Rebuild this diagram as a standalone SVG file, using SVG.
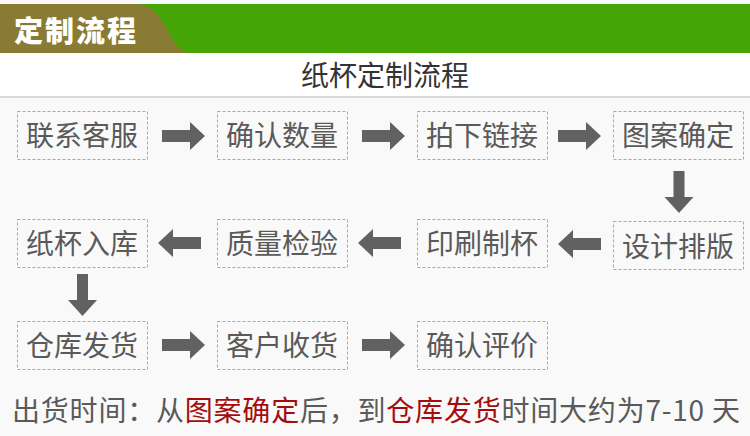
<svg xmlns="http://www.w3.org/2000/svg" width="750" height="436" viewBox="0 0 750 436">
<defs>
<style>
.bx{fill:none;stroke:#a8a8a8;stroke-width:1;stroke-dasharray:3,2}
.t{font-family:"Noto Sans CJK SC","Noto Sans",sans-serif;font-size:28px;fill:#5a5a5a;text-anchor:middle}
.ar{fill:#616161}
.red{fill:#a50d0d}
</style>
<path id="ra" d="M0,-6 H28 V-13 L43,0 L28,13 V-6 Z M0,6 H28" />
<path id="right" d="M0,-6 H28 V-14 L43,0 L28,14 V6 H0 Z"/>
<path id="left" d="M43,-6 H15 V-14 L0,0 L15,14 V6 H43 Z"/>
<path id="down" d="M-5.5,0 H5.5 V26 H14.5 L0,42 L-14.5,26 H-5.5 Z"/>
</defs>
<rect x="0" y="0" width="750" height="436" fill="#f9f9f9"/>
<rect x="0" y="53" width="750" height="44" fill="#ffffff"/>
<rect x="0" y="4" width="750" height="49" fill="#45a507"/>
<path d="M0,4 H136 C158,4 166,30 174,42 C179,49 184,53 191,53 H0 Z" fill="#8a7b34"/>
<text x="14" y="42" style="font-family:'Noto Sans CJK SC',sans-serif;font-size:29px;font-weight:900;fill:#ffffff;letter-spacing:2px">定制流程</text>
<rect x="0" y="96" width="750" height="2" fill="#d9d9d9"/>
<text x="385" y="86" class="t" style="fill:#333333;font-size:28px">纸杯定制流程</text>

<g id="n1"><rect class="bx" x="17.5" y="111.5" width="130" height="48"/><text class="t" x="82" y="146">联系客服</text></g>
<g id="n2"><rect class="bx" x="217.5" y="111.5" width="130" height="48"/><text class="t" x="282" y="146">确认数量</text></g>
<g id="n3"><rect class="bx" x="417.5" y="111.5" width="130" height="48"/><text class="t" x="482" y="146">拍下链接</text></g>
<g id="n4"><rect class="bx" x="613.5" y="111.5" width="130" height="48"/><text class="t" x="678" y="146">图案确定</text></g>
<g id="n5"><rect class="bx" x="613.5" y="221.5" width="130" height="48"/><text class="t" x="678" y="257">设计排版</text></g>
<g id="n6"><rect class="bx" x="417.5" y="219.5" width="130" height="48"/><text class="t" x="482" y="254">印刷制杯</text></g>
<g id="n7"><rect class="bx" x="217.5" y="219.5" width="130" height="48"/><text class="t" x="282" y="254">质量检验</text></g>
<g id="n8"><rect class="bx" x="17.5" y="219.5" width="130" height="48"/><text class="t" x="82" y="254">纸杯入库</text></g>
<g id="n9"><rect class="bx" x="17.5" y="321.5" width="130" height="48"/><text class="t" x="82" y="356">仓库发货</text></g>
<g id="n10"><rect class="bx" x="217.5" y="321.5" width="130" height="48"/><text class="t" x="282" y="356">客户收货</text></g>
<g id="n11"><rect class="bx" x="417.5" y="321.5" width="130" height="48"/><text class="t" x="482" y="356">确认评价</text></g>

<g id="connectors" class="ar">
<use href="#right" x="162" y="136"/>
<use href="#right" x="362" y="136"/>
<use href="#right" x="558" y="136"/>
<use href="#down" x="679" y="171"/>
<use href="#left" x="558" y="244"/>
<use href="#left" x="358" y="243"/>
<use href="#left" x="158" y="243"/>
<use href="#down" x="82.5" y="274"/>
<use href="#right" x="162" y="345"/>
<use href="#right" x="362" y="345"/>
</g>

<text x="12" y="421" textLength="728" lengthAdjust="spacing" style="font-family:'Noto Sans CJK SC',sans-serif;font-size:28px;fill:#5a5a5a">出货时间：从<tspan class="red">图案确定</tspan>后，到<tspan class="red">仓库发货</tspan>时间大约为7-10 天</text>
</svg>
